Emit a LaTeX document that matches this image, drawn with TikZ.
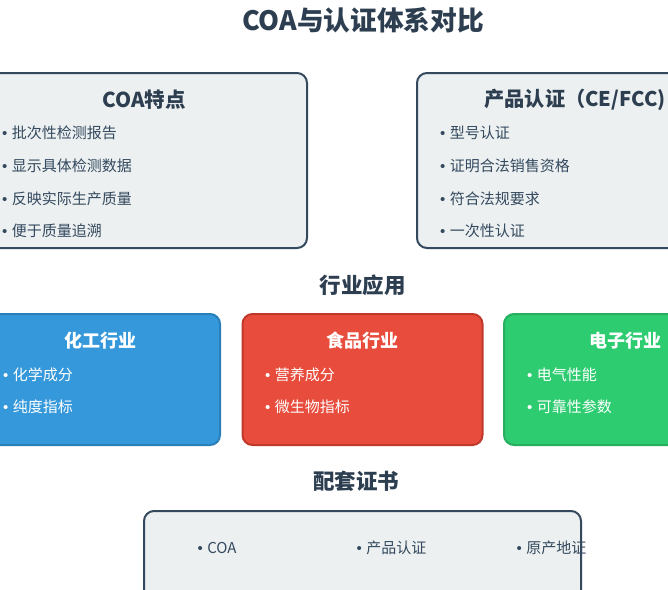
\documentclass[tikz,border=0pt]{standalone}
\usepackage{fontspec}
\setmainfont{Noto Sans CJK SC}
\newfontfamily\bulfont{Liberation Sans}
\newcommand{\bu}{{\bulfont •}\hspace{4.3pt}}
\definecolor{dark}{HTML}{34495E}
\definecolor{light}{HTML}{ECF0F1}
\definecolor{ttl}{HTML}{2C3E50}
\definecolor{bluef}{HTML}{3498DB}
\definecolor{blued}{HTML}{2980B9}
\definecolor{redf}{HTML}{E74C3C}
\definecolor{redd}{HTML}{C0392B}
\definecolor{greenf}{HTML}{2ECC71}
\definecolor{greend}{HTML}{27AE60}
\begin{document}
\begin{tikzpicture}[x=1pt,y=-1pt,
  box/.style={draw=dark, line width=2pt, fill=light, rounded corners=10pt, inner sep=0pt},
  ibox/.style={line width=2pt, rounded corners=10pt, inner sep=0pt, minimum width=240pt, minimum height=131pt},
  maintitle/.style={font=\bfseries\fontsize{26.7}{30}\selectfont, text=ttl},
  sectitle/.style={font=\bfseries\fontsize{21.5}{24}\selectfont, text=ttl},
  boxtitle/.style={font=\bfseries\fontsize{20.5}{23}\selectfont, text=ttl},
  itemtxt/.style={font=\fontsize{15}{17}\selectfont, text=dark, anchor=west, inner sep=0pt},
  ititle/.style={font=\bfseries\fontsize{18}{21}\selectfont, text=white},
  iitem/.style={font=\fontsize{15}{17}\selectfont, text=white, anchor=west, inner sep=0pt}
]
\useasboundingbox (0,0) rectangle (668,589);
\clip (0,0) rectangle (668,589);
\fill[white] (0,0) rectangle (668,589);

\node[maintitle] (title) at (363,20) {COA与认证体系对比};

% COA box
\node[box, minimum width=328pt, minimum height=175pt] (coabox) at (143,160.5) {};
\node[boxtitle] (coat) at (144,100) {COA特点};
\node[itemtxt] (c1) at (2,133) {\bu 批次性检测报告};
\node[itemtxt] (c2) at (2,166) {\bu 显示具体检测数据};
\node[itemtxt] (c3) at (2,199) {\bu 反映实际生产质量};
\node[itemtxt] (c4) at (2,231) {\bu 便于质量追溯};

% Product certification box
\node[box, minimum width=328pt, minimum height=175pt] (certbox) at (581,160.5) {};
\node[boxtitle, font=\bfseries\fontsize{20.2}{23}\selectfont] (certt) at (575,100) {产品认证（CE/FCC)};
\node[itemtxt] (p1) at (440,133) {\bu 型号认证};
\node[itemtxt] (p2) at (440,166) {\bu 证明合法销售资格};
\node[itemtxt] (p3) at (440,199) {\bu 符合法规要求};
\node[itemtxt] (p4) at (440,231) {\bu 一次性认证};

% Industry
\node[sectitle] (ind) at (362.5,285) {行业应用};

\node[ibox, draw=blued, fill=bluef] (chem) at (100,379.5) {};
\node[ititle] (chemt) at (100,341) {化工行业};
\node[iitem] (ch1) at (3,375) {\bu 化学成分};
\node[iitem] (ch2) at (3,407) {\bu 纯度指标};

\node[ibox, draw=redd, fill=redf] (food) at (362.5,379.5) {};
\node[ititle] (foodt) at (362,341) {食品行业};
\node[iitem] (f1) at (265,375) {\bu 营养成分};
\node[iitem] (f2) at (265,407) {\bu 微生物指标};

\node[ibox, draw=greend, fill=greenf] (elec) at (624,379.5) {};
\node[ititle] (elect) at (625,341) {电子行业};
\node[iitem] (e1) at (527,375) {\bu 电气性能};
\node[iitem] (e2) at (527,407) {\bu 可靠性参数};

% Supporting certificates
\node[sectitle] (sup) at (356,481) {配套证书};
\node[box, minimum width=437pt, minimum height=140pt] (supbox) at (362.5,581) {};
\node[itemtxt] (s1) at (197.5,548) {\bu COA};
\node[itemtxt] (s2) at (356.5,548) {\bu 产品认证};
\node[itemtxt] (s3) at (516.5,548) {\bu 原产地证};
\end{tikzpicture}
\end{document}
